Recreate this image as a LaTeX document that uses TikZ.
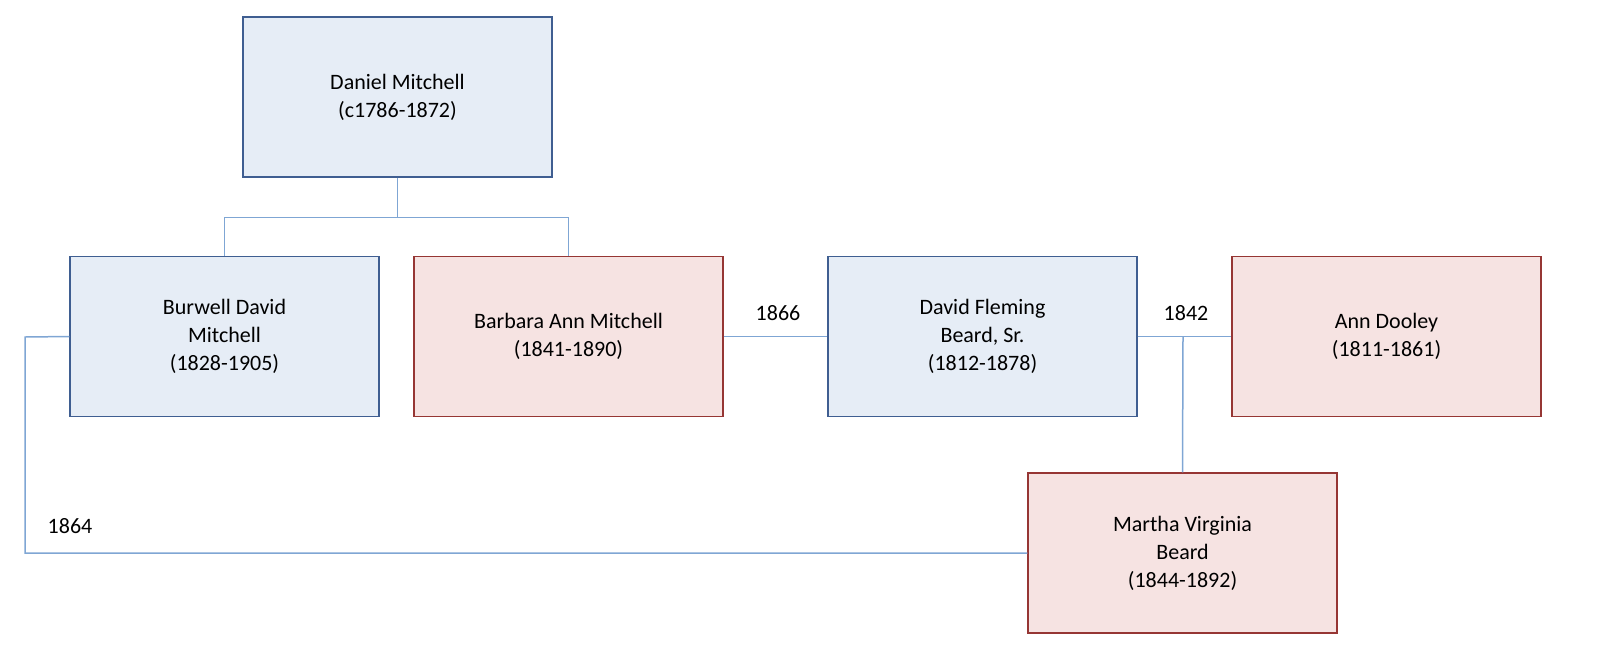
\documentclass[tikz,border=0pt]{standalone}
\usepackage{fontspec}
\setmainfont{Carlito}
\definecolor{bfill}{HTML}{E6EDF6}
\definecolor{bdraw}{HTML}{3F5E91}
\definecolor{rfill}{HTML}{F6E3E2}
\definecolor{rdraw}{HTML}{963634}
\definecolor{lnk}{HTML}{7FA6D4}
\begin{document}
\begin{tikzpicture}[x=1pt,y=-1pt,
  person/.style={draw, line width=1.2pt, minimum width=309pt, minimum height=160pt, align=center, inner sep=0pt, font=\fontsize{22}{28}\selectfont},
  male/.style={person, fill=bfill, draw=bdraw},
  female/.style={person, fill=rfill, draw=rdraw},
  link/.style={draw=lnk, line width=1.5pt},
  yr/.style={font=\fontsize{22}{28}\selectfont, inner sep=0pt}]
\node[male] (dm) at (397.5,97) {Daniel Mitchell\\(c1786-1872)};
\node[male] (bdm) at (224.5,336.5) {Burwell David\\Mitchell\\(1828-1905)};
\node[female] (bam) at (568.5,336.5) {Barbara Ann Mitchell\\(1841-1890)};
\node[male] (dfb) at (982.5,336.5) {David Fleming\\Beard, Sr.\\(1812-1878)};
\node[female] (ad) at (1386.5,336.5) {Ann Dooley\\(1811-1861)};
\node[female] (mvb) at (1182.5,553) {Martha Virginia\\Beard\\(1844-1892)};
\coordinate (j1) at (1183,337);
\coordinate (c1) at (25,337);
\coordinate (c2) at (25,553);
\draw[link] (dm.south) -- ++(0,40) -| (bdm.north);
\draw[link] (dm.south) -- ++(0,40) -| (bam.north);
\draw[link] (bam.east) -- (dfb.west);
\draw[link] (dfb.east) -- (ad.west);
\draw[link] (j1) -- (mvb.north);
\draw[link] (bdm.west) -- (c1) -- (c2) -- (mvb.west);
\node[yr] (y1) at (778,313) {1866};
\node[yr] (y2) at (1186,313) {1842};
\node[yr] (y3) at (70,526) {1864};
\pgfresetboundingbox
\useasboundingbox (0,0) rectangle (1600,665);
\end{tikzpicture}
\end{document}
